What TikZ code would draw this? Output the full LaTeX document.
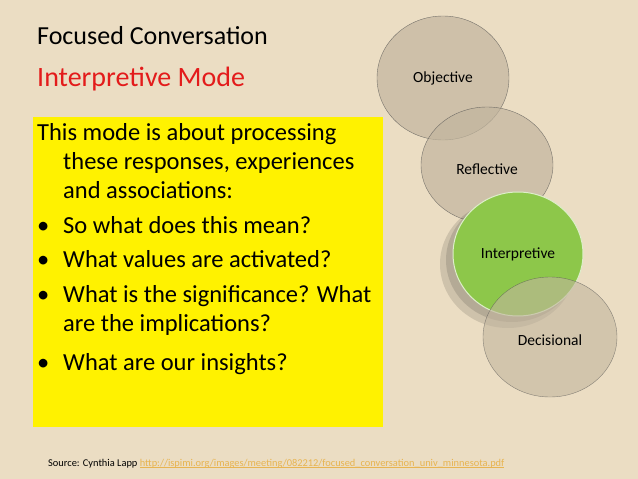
\documentclass[tikz,border=0pt]{standalone}
\usepackage{fontspec}
\setmainfont{Carlito}
\definecolor{bg}{HTML}{EBDDC3}
\definecolor{tan}{HTML}{C2B59E}
\definecolor{grn}{HTML}{8DC74A}
\definecolor{ttl}{HTML}{E31B1B}
\definecolor{lnk}{HTML}{E8B450}
\tikzset{
 lbl/.style={font=\fontsize{15.5}{18}\selectfont,text=black},
 body/.style={anchor=base west,font=\fontsize{24.5}{28}\selectfont,inner sep=0pt}
}
\begin{document}
\begin{tikzpicture}[x=1pt,y=-1pt]
\fill[bg] (0,0) rectangle (638,479);
\useasboundingbox (0,0) rectangle (638,479);
% circles
\fill[tan,opacity=0.7,draw=gray!60!black] (443,78) ellipse [x radius=66,y radius=62];
\fill[tan,opacity=0.7,draw=gray!60!black] (487,165) ellipse [x radius=66,y radius=58];
\fill[black,opacity=0.12] (508,264) ellipse [x radius=68,y radius=64];
\fill[black,opacity=0.12] (512,260) ellipse [x radius=66,y radius=62];
\fill[grn,draw=white!70!grn,line width=1pt] (518,254) ellipse [x radius=65,y radius=62];
\fill[tan,opacity=0.6,draw=gray!60!black] (550,337) ellipse [x radius=67,y radius=60];
\node[lbl] (obj) at (443,78) {Objective};
\node[lbl] (ref) at (487,169) {Reflective};
\node[lbl] (int) at (518,254) {Interpretive};
\node[lbl] (dec) at (550,340) {Decisional};
% titles
\node[anchor=base west,inner sep=0pt,font=\fontsize{26}{30}\selectfont] (t1) at (37,45) {Focused Conversation};
\node[anchor=base west,inner sep=0pt,font=\fontsize{28}{32}\selectfont,text=ttl] (t2) at (37,86) {Interpretive Mode};
% yellow box
\fill[yellow] (33,117) rectangle (383,427);
\node[body] (l1) at (37,140) {This mode is about processing};
\node[body] (l2) at (63,169) {these responses, experiences};
\node[body] (l3) at (63,198) {and associations:};
\node[body] (b1) at (37,233) {•};
\node[body] (l4) at (63,233) {So what does this mean?};
\node[body] (b2) at (37,267) {•};
\node[body] (l5) at (63,267) {What values are activated?};
\node[body] (b3) at (37,302) {•};
\node[body] (l6) at (63,302) {What is the significance? What};
\node[body] (l7) at (63,331) {are the implications?};
\node[body] (b4) at (37,370) {•};
\node[body] (l8) at (63,370) {What are our insights?};
% source
\node[anchor=base west,inner sep=0pt,font=\fontsize{10.4}{12}\selectfont] (src) at (48,466) {Source: Cynthia Lapp \textcolor{lnk}{\underbar{http://ispimi.org/images/meeting/082212/focused\_conversation\_univ\_minnesota.pdf}}};
\end{tikzpicture}
\end{document}
